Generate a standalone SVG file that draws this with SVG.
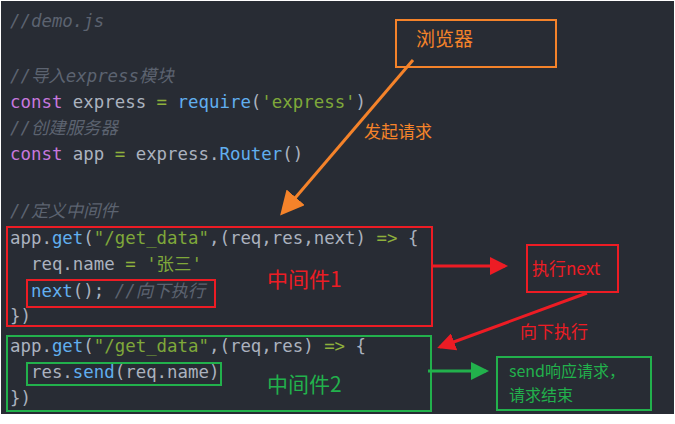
<svg xmlns="http://www.w3.org/2000/svg" width="675" height="424" viewBox="0 0 675 424">
<style>
.c{font-family:"DejaVu Sans Mono","Noto Sans CJK SC",monospace;font-size:17.4px;fill:#abb2bf;white-space:pre}
.cm{fill:#5c6370;font-style:italic}
.k{fill:#c678dd}.f{fill:#61afef}.s{fill:#7fa83a}.o{fill:#8fb03c}
.l{font-family:"Noto Sans CJK SC",sans-serif}
</style>
<defs>
<marker id="ao" markerWidth="8" markerHeight="8" refX="6" refY="4" orient="auto" markerUnits="strokeWidth"><path d="M0,0L8,4L0,8z" fill="#f5832a"/></marker>
<marker id="ar" markerWidth="6" markerHeight="6" refX="5" refY="3" orient="auto" markerUnits="strokeWidth"><path d="M0,0L6,3L0,6z" fill="#ed1c24"/></marker>
<marker id="ag" markerWidth="6" markerHeight="6" refX="5" refY="3" orient="auto" markerUnits="strokeWidth"><path d="M0,0L6,3L0,6z" fill="#22b14c"/></marker>
</defs>
<rect width="675" height="424" fill="#fff"/>
<rect x="1" y="1" width="673" height="413" fill="#282c34"/>
<g id="code">
<text class="c cm" x="10" y="27">//demo.js</text>
<text class="c cm" x="10" y="82">//导入express模块</text>
<text class="c" x="10" y="108"><tspan class="k">const</tspan> express <tspan class="o">=</tspan> <tspan class="f">require</tspan>(<tspan class="s">'express'</tspan>)</text>
<text class="c cm" x="10" y="134">//创建服务器</text>
<text class="c" x="10" y="160"><tspan class="k">const</tspan> app <tspan class="o">=</tspan> express.<tspan class="f">Router</tspan>()</text>
<text class="c cm" x="10" y="217">//定义中间件</text>
<text class="c" x="10" y="244">app.<tspan class="f">get</tspan>(<tspan class="s">"/get_data"</tspan>,(req,res,next) <tspan class="o">=&gt;</tspan> {</text>
<text class="c" x="10" y="270">  req.name <tspan class="o">=</tspan> <tspan class="s">'张三'</tspan></text>
<text class="c" x="10" y="297">  <tspan class="f">next</tspan>(); <tspan class="cm">//向下执行</tspan></text>
<text class="c" x="10" y="322">})</text>
<text class="c" x="10" y="352">app.<tspan class="f">get</tspan>(<tspan class="s">"/get_data"</tspan>,(req,res) <tspan class="o">=&gt;</tspan> {</text>
<text class="c" x="10" y="378">  res.<tspan class="f">send</tspan>(req.name)</text>
<text class="c" x="10" y="404">})</text>
</g>
<g id="browser"><rect x="396" y="20" width="160" height="47" fill="none" stroke="#f5832a" stroke-width="2"/><text class="l" x="416" y="46" font-size="19" fill="#f5832a">浏览器</text></g>
<g id="mw1"><rect x="7" y="227" width="425" height="99" fill="none" stroke="#ed1c24" stroke-width="2"/><rect x="27" y="280" width="188" height="27" fill="none" stroke="#ed1c24" stroke-width="2"/><text class="l" x="267" y="287" font-size="21" fill="#ed1c24">中间件1</text></g>
<g id="next"><rect x="527" y="245" width="91" height="47" fill="none" stroke="#ed1c24" stroke-width="2"/><text class="l" x="532" y="275" font-size="17" fill="#ed1c24">执行next</text></g>
<g id="mw2"><rect x="7" y="336" width="424" height="75" fill="none" stroke="#22b14c" stroke-width="2"/><rect x="27" y="363" width="194" height="22" fill="none" stroke="#22b14c" stroke-width="2"/><text class="l" x="267" y="392" font-size="21" fill="#22b14c">中间件2</text></g>
<g id="send"><rect x="497" y="357" width="154" height="53" fill="none" stroke="#22b14c" stroke-width="2"/><text class="l" x="509" y="377" font-size="16" fill="#22b14c">send响应请求，</text><text class="l" x="509" y="401" font-size="16" fill="#22b14c">请求结束</text></g>
<g id="connectors" fill="none">
<line x1="413" y1="60" x2="284" y2="211" stroke="#f5832a" stroke-width="3" marker-end="url(#ao)"/>
<text class="l" x="364" y="138" font-size="17" fill="#f5832a">发起请求</text>
<line x1="432" y1="266" x2="505" y2="266" stroke="#ed1c24" stroke-width="3" marker-end="url(#ar)"/>
<line x1="587" y1="293" x2="440" y2="347" stroke="#ed1c24" stroke-width="3" marker-end="url(#ar)"/>
<text class="l" x="520" y="338" font-size="17" fill="#ed1c24">向下执行</text>
<line x1="428" y1="371" x2="486" y2="371" stroke="#22b14c" stroke-width="3" marker-end="url(#ag)"/>
</g>
</svg>
